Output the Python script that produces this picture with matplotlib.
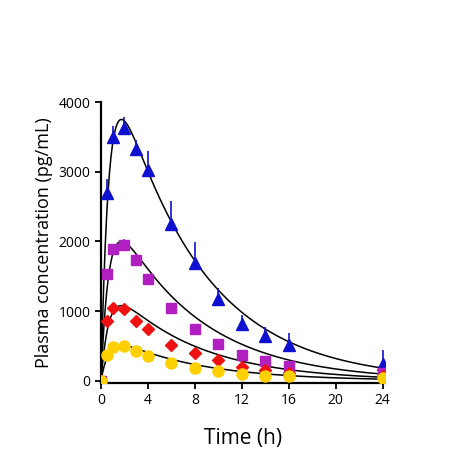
import numpy as np
import matplotlib
matplotlib.use("Agg")
import matplotlib.pyplot as plt

plt.rcParams['font.family'] = ['Open Sans', 'DejaVu Sans']

t = [0, 0.5, 1, 2, 3, 4, 6, 8, 10, 12, 14, 16, 24]
blue = [0, 2700, 3500, 3630, 3330, 3030, 2250, 1690, 1170, 810, 640, 510, 240]
blue_err = [0, 200, 150, 150, 120, 270, 330, 300, 160, 130, 140, 170, 200]
purple = [0, 1540, 1890, 1950, 1735, 1465, 1040, 740, 525, 370, 285, 215, 115]
purple_err = [0, 60, 80, 90, 80, 60, 60, 40, 30, 25, 20, 20, 15]
red = [0, 855, 1050, 1025, 855, 740, 510, 400, 300, 200, 155, 115, 70]
yellow = [0, 370, 485, 500, 425, 355, 255, 185, 140, 100, 70, 70, 40]
fit_peak = {'blue': 3750, 'purple': 2000, 'red': 1080, 'yellow': 510}

fig = plt.figure(figsize=(4.74, 4.74), dpi=100)
ax = fig.add_axes([101/474, 1-383/474, 284/474, 281/474])

ke, ka = 0.14, 1.5
tt = np.linspace(0, 24, 400)
shape = np.exp(-ke*tt) - np.exp(-ka*tt)
shape /= shape.max()
for k in ['yellow', 'red', 'purple', 'blue']:
    ax.plot(tt, fit_peak[k]*shape, color='black', lw=1.1, zorder=2)

ax.errorbar(t, blue, yerr=[np.zeros(len(t)), blue_err], fmt='^', color='#1010d0',
            ms=8, elinewidth=1.2, capsize=0, zorder=3)
ax.errorbar(t, purple, yerr=[np.zeros(len(t)), purple_err], fmt='s', color='#b020c0',
            ms=7, elinewidth=1.2, capsize=0, zorder=3)
ax.plot(t, red, 'D', color='#ee1111', ms=6, zorder=4)
ax.plot(t, yellow, 'o', color='#ffd000', ms=8, zorder=5)

ax.set_xlim(0, 24.2)
ax.set_ylim(-30, 4000)
ax.set_xticks([0, 4, 8, 12, 16, 20, 24])
ax.set_yticks([0, 1000, 2000, 3000, 4000])
for s in ['top', 'right']:
    ax.spines[s].set_visible(False)
for s in ['left', 'bottom']:
    ax.spines[s].set_linewidth(1.6)
ax.tick_params(direction='out', width=1.3, length=4, labelsize=10)
ax.set_xlabel('Time (h)', fontsize=15, labelpad=14)
ax.set_ylabel('Plasma concentration (pg/mL)', fontsize=13)
fig.savefig('out.png', dpi=100)
